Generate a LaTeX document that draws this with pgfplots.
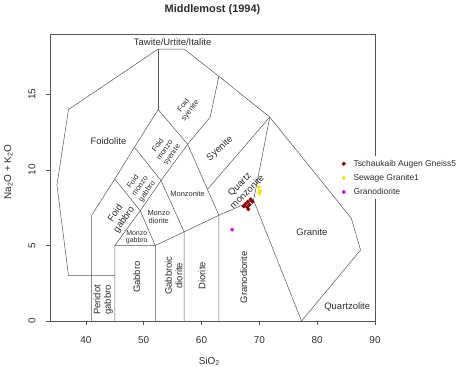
\documentclass[border=0pt]{standalone}
\usepackage{pgfplots}
\pgfplotsset{compat=1.18}
\usepackage{fontspec}
\setmainfont{Liberation Sans}
\definecolor{ln}{RGB}{85,85,85}
\definecolor{tx}{RGB}{45,45,45}
\definecolor{ptred}{RGB}{139,0,0}
\definecolor{ptyel}{RGB}{240,225,0}
\definecolor{ptmag}{RGB}{200,20,220}
\begin{document}
\begin{tikzpicture}
\path[use as bounding box] (-50bp,-46bp) rectangle (424bp,321bp);
\begin{axis}[
  at={(0,0)}, anchor=south west,
  scale only axis, width=325bp, height=287bp,
  xmin=33.8, xmax=90, ymin=0, ymax=19,
  axis line style={draw=ln, line width=0.5bp},
  xtick={40,50,...,90}, ytick={0,5,10,15},
  xtick pos=left, ytick pos=left,
  tick align=outside, major tick length=4bp,
  tick style={draw=ln, line width=0.5bp},
  /pgf/number format/assume math mode=true,
  tick label style={font=\fontsize{10}{12}\selectfont, text=tx},
  xticklabel shift=8bp,
  yticklabel style={rotate=90, anchor=south},
  yticklabel shift=7bp,
  xlabel={SiO\textsubscript{2}},
  ylabel={Na\textsubscript{2}O + K\textsubscript{2}O},
  label style={font=\fontsize{10}{12}\selectfont, text=tx},
  xlabel style={at={(axis description cs:0.49,-0.113)}, anchor=north},
  ylabel style={at={(axis description cs:-0.128,0.52)}, anchor=center, rotate=0},
  legend style={at={(rel axis cs:0.893,0.574)}, anchor=north west, draw=none, fill=white,
    font=\fontsize{8.5}{9}\selectfont, row sep=2.5bp, column sep=6bp, inner sep=1.5bp, text=tx},
  legend cell align=left,
  clip=false,
]
% diagram lines
\addplot[ln, line width=0.5bp, forget plot] coordinates {(45,3) (37,3) (35,9) (37,14) (52.5,18) (57,18) (63,16.2) (71.8,13.5) (85.9,6.8) (87.5,4.7) (77.3,0)};
\addplot[ln, line width=0.5bp, forget plot] coordinates {(41,0) (41,7) (45,9.4) (48.4,11.5) (52.5,14) (57.6,11.7) (63,7) (63,0)};
\addplot[ln, line width=0.5bp, forget plot] coordinates {(52.5,14) (52.5,18)};
\addplot[ln, line width=0.5bp, forget plot] coordinates {(45,0) (45,5) (49.4,7.3) (53,9.3) (57.6,11.7)};
\addplot[ln, line width=0.5bp, forget plot] coordinates {(45,9.4) (49.4,7.3) (52,5) (52,0)};
\addplot[ln, line width=0.5bp, forget plot] coordinates {(48.4,11.5) (53,9.3) (57,5.9) (57,0)};
\addplot[ln, line width=0.5bp, forget plot] coordinates {(45,5) (52,5) (57,5.9) (63,7) (69,8) (77.3,0)};
\addplot[ln, line width=0.5bp, forget plot] coordinates {(69,8) (71.8,13.5)};
\addplot[ln, line width=0.5bp, forget plot] coordinates {(61,8.7) (71.8,13.5)};
\addplot[ln, line width=0.5bp, forget plot] coordinates {(57.6,11.7) (61.5,13.5) (63,16.2)};
% data
\addplot[only marks, mark=*, mark size=1.8bp, color=ptred] coordinates {(67.3,7.6) (67.6,7.75) (67.9,7.55) (68.0,7.9) (68.3,7.7) (68.5,8.05) (68.8,7.9) (68.1,7.4)};
\addlegendentry{Tschaukaib Augen Gneiss5}
\addplot[only marks, mark=*, mark size=1.8bp, color=ptyel] coordinates {(69.9,8.85) (70.1,8.6) (70.0,8.45)};
\addlegendentry{Sewage Granite1}
\addplot[only marks, mark=*, mark size=1.8bp, color=ptmag] coordinates {(65.3,6.05)};
\addlegendentry{Granodiorite}
% labels
\tikzset{lab/.style={font=\fontsize{9.5}{10.5}\selectfont, text=tx, align=center, inner sep=0pt},
         sm/.style={font=\fontsize{7.5}{8.5}\selectfont, text=tx, align=center, inner sep=0pt},
         xs/.style={font=\fontsize{7}{7.5}\selectfont, text=tx, align=center, inner sep=0pt}}
\node[font=\bfseries\fontsize{11}{13}\selectfont, text=tx] at (rel axis cs:0.5,1.084) {Middlemost (1994)};
\node[lab] at (axis cs:55,18.45) {Tawite/Urtite/Italite};
\node[lab] at (axis cs:43.9,11.9) {Foidolite};
\node[sm, rotate=52] at (axis cs:57.5,14.1) {Foid\\syenite};
\node[sm, rotate=55] at (axis cs:53.7,11.3) {Foid\\monzo\\syenite};
\node[sm, rotate=55] at (axis cs:49.4,8.9) {Foid\\monzo\\gabbro};
\node[lab, rotate=55] at (axis cs:45.9,6.9) {Foid\\gabbro};
\node[sm] at (axis cs:57.6,8.4) {Monzonite};
\node[sm] at (axis cs:52.6,6.9) {Monzo\\diorite};
\node[xs] at (axis cs:48.8,5.55) {Monzo\\gabbro};
\node[lab, rotate=42] at (axis cs:63.2,11.4) {Syenite};
\node[lab, rotate=45] at (axis cs:67.2,8.8) {Quartz\\monzonite};
\node[lab] at (axis cs:79.1,5.9) {Granite};
\node[lab] at (axis cs:85.2,0.95) {Quartzolite};
\node[lab, rotate=90] at (axis cs:43.0,1.4) {Peridot\\gabbro};
\node[lab, rotate=90] at (axis cs:48.8,2.9) {Gabbro};
\node[lab, rotate=90] at (axis cs:55.2,3.0) {Gabbroic\\diorite};
\node[lab, rotate=90] at (axis cs:60.1,3.0) {Diorite};
\node[lab, rotate=90] at (axis cs:67.3,2.9) {Granodiorite};
\end{axis}
\end{tikzpicture}
\end{document}
